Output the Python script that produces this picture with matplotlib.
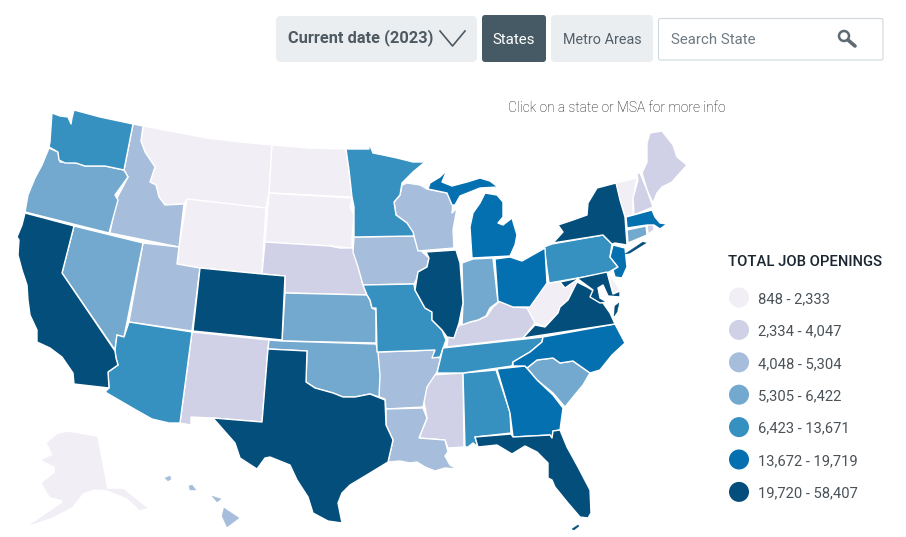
import matplotlib
matplotlib.use("Agg")
import matplotlib.pyplot as plt
from matplotlib.patches import Polygon, FancyBboxPatch, Circle

plt.rcParams['font.family'] = ['Roboto', 'DejaVu Sans']

legend_title = "TOTAL JOB OPENINGS"
legend_labels = ["848 - 2,333", "2,334 - 4,047", "4,048 - 5,304", "5,305 - 6,422",
                 "6,423 - 13,671", "13,672 - 19,719", "19,720 - 58,407"]
class_colors = ["#f1eef6", "#d0d1e6", "#a6bddb", "#74a9cf", "#3690c0", "#0570b0", "#034e7b"]

states_class0 = ["MT", "ND", "SD", "WY", "VT", "WV", "DE", "AK"]
states_class1 = ["NE", "NM", "MS", "KY", "ME", "NH", "RI"]
states_class2 = ["ID", "UT", "IA", "WI", "AR", "LA", "HI", "HI2", "HI3", "HI4"]
states_class3 = ["OR", "NV", "KS", "OK", "IN", "SC", "CT"]
states_class4 = ["WA", "AZ", "MN", "MO", "AL", "TN", "PA"]
states_class5 = ["MI", "MIU", "OH", "GA", "NC", "NJ", "MA"]
states_class6 = ["CA", "CO", "TX", "IL", "FL", "FLK", "VA", "VA2", "NY", "LI", "MD"]
state_classes = [states_class0, states_class1, states_class2, states_class3,
                 states_class4, states_class5, states_class6]
no_border = ["AK", "HI", "HI2", "HI3", "HI4", "FLK", "LI", "VA2"]

# State outlines (pixel space of the map)
outline = {
 "WA": [(52,113),(60,116),(68,117),(71,124),(72,118),(74,110),(100,117),(133,124),(124,170),(105,166),(95,166),(85,166),(76,163),(65,163),(59,160),(58,152),(49,147),(50,142),(51,127)],
 "OR": [(49,148),(58,152),(60,162),(76,163),(85,166),(105,166),(124,170),(128,177),(115,195),(118,200),(109,233),(25,212),(28,195),(35,178),(42,165)],
 "CA": [(25,213),(74,226),(62,273),(115,351),(116,358),(118,365),(108,372),(109,388),(74,384),(73,373),(62,357),(50,348),(37,342),(37,330),(30,315),(28,300),(27,285),(22,270),(18,255),(19,240),(17,237),(22,225)],
 "NV": [(74,226),(143,243),(127,322),(124,337),(117,335),(115,350),(62,273)],
 "ID": [(133,124),(143,126),(141,141),(145,152),(155,167),(150,182),(156,185),(159,197),(165,205),(184,204),(179,247),(110,233),(116,200),(128,177),(124,170)],
 "MT": [(143,126),(175,132),(207,138),(240,142),(272,145),(269,193),(266,208),(187,199),(184,204),(165,205),(159,197),(156,185),(150,182),(155,167),(145,152),(141,141)],
 "WY": [(187,199),(266,208),(262,274),(200,268),(177,264),(179,247)],
 "UT": [(143,243),(179,247),(177,264),(200,268),(192,331),(129,322)],
 "CO": [(200,268),(262,274),(285,276),(282,340),(193,331)],
 "AZ": [(129,322),(192,332),(180,423),(169,423),(152,419),(136,410),(105,392),(109,388),(108,372),(118,365),(116,358),(115,350),(117,335),(124,337)],
 "NM": [(192,332),(269,340),(268,349),(262,422),(213,418),(191,417),(191,425),(180,423)],
 "TX": [(268,349),(307,351),(306,382),(315,388),(333,393),(343,397),(355,397),(370,394),(385,400),(386,425),(393,440),(388,462),(370,473),(350,485),(342,493),(338,503),(342,523),(328,521),(313,513),(308,497),(297,480),(290,465),(270,457),(265,458),(257,469),(240,458),(235,443),(213,418),(262,422)],
 "OK": [(269,340),(282,341),(376,344),(378,352),(380,375),(379,397),(370,394),(355,397),(343,397),(333,393),(315,388),(306,382),(307,351),(268,349)],
 "ND": [(272,145),(310,148),(346,149),(349,170),(352,197),(269,193)],
 "SD": [(269,193),(352,198),(350,207),(354,215),(352,238),(352,248),(340,247),(330,246),(265,242)],
 "NE": [(265,242),(330,246),(340,248),(352,248),(356,253),(360,268),(362,282),(367,295),(285,293),(285,276),(262,274)],
 "KS": [(285,293),(367,295),(370,300),(372,308),(376,310),(376,343),(282,341)],
 "MN": [(346,149),(369,149),(369,143),(373,153),(383,155),(397,158),(413,162),(425,162),(413,172),(402,183),(400,195),(394,202),(396,215),(407,223),(413,232),(414,236),(354,237),(354,207),(352,197),(349,170)],
 "IA": [(354,237),(414,236),(418,248),(429,258),(427,267),(418,272),(417,278),(414,284),(363,285),(358,267),(353,252)],
 "WI": [(402,185),(407,183),(420,185),(427,189),(447,193),(453,203),(452,213),(457,208),(453,230),(454,248),(418,251),(414,236),(407,223),(396,215),(394,202),(400,195)],
 "IL": [(426,252),(456,250),(460,263),(463,303),(459,323),(454,338),(447,337),(442,330),(432,320),(432,312),(425,308),(415,290),(417,278),(418,272),(427,267),(429,258)],
 "IN": [(462,263),(473,259),(493,258),(498,302),(490,308),(486,316),(478,320),(470,322),(462,325),(463,303)],
 "MO": [(363,285),(414,284),(415,290),(425,308),(432,312),(432,320),(442,330),(446,340),(440,357),(432,358),(435,350),(377,352),(376,308),(372,308),(370,300),(367,295)],
 "AR": [(378,352),(435,350),(433,357),(441,358),(437,372),(427,387),(423,407),(386,409),(385,399),(379,397)],
 "LA": [(386,409),(423,408),(427,418),(419,438),(445,440),(448,452),(445,456),(450,465),(457,469),(445,468),(435,471),(425,467),(417,462),(410,463),(400,461),(388,462),(393,440),(386,425)],
 "MS": [(431,375),(463,373),(464,447),(448,448),(445,440),(419,438),(427,418),(423,397),(427,387)],
 "AL": [(463,373),(496,370),(510,412),(511,433),(475,437),(478,447),(473,443),(468,447),(465,447)],
 "GA": [(497,369),(525,366),(537,380),(553,395),(563,408),(560,430),(553,431),(552,438),(550,435),(513,437),(510,413)],
 "FL": [(475,437),(511,434),(513,437),(550,435),(552,438),(553,431),(560,430),(567,447),(578,467),(590,490),(591,513),(588,518),(580,517),(568,503),(555,487),(552,480),(548,478),(548,463),(537,452),(525,446),(512,454),(497,445),(478,447)],
 "FLK": [(572,529),(578,525),(579,526),(574,530)],
 "SC": [(527,368),(537,360),(553,358),(560,363),(573,361),(590,373),(583,385),(573,397),(565,407),(553,393),(537,380)],
 "NC": [(543,337),(615,324),(625,343),(612,355),(600,370),(590,373),(573,361),(560,363),(553,358),(537,360),(527,368),(525,366),(513,366),(513,362),(530,352),(542,342)],
 "TN": [(437,373),(443,348),(543,337),(542,342),(530,352),(513,362),(512,366),(463,373)],
 "KY": [(447,347),(448,337),(460,325),(470,322),(478,320),(487,316),(493,307),(500,301),(513,307),(527,308),(535,323),(523,338)],
 "OH": [(495,259),(510,257),(522,261),(545,248),(547,283),(530,307),(513,307),(498,301)],
 "MI": [(472,258),(470,227),(473,213),(480,203),(485,193),(497,195),(503,202),(503,217),(498,223),(503,225),(512,218),(517,235),(515,245),(510,256)],
 "MIU": [(430,183),(440,177),(447,170),(442,182),(452,186),(467,182),(480,178),(490,181),(498,187),(480,188),(470,192),(460,196),(455,205),(452,205),(447,193),(428,189)],
 "PA": [(544,247),(552,244),(603,235),(612,244),(610,257),(618,267),(607,273),(549,283)],
 "NY": [(553,243),(563,232),(558,225),(573,220),(587,215),(588,203),(597,188),(616,183),(620,200),(625,217),(627,245),(615,243),(612,244),(603,235)],
 "LI": [(625,254),(643,242),(646,243),(630,253)],
 "NJ": [(613,245),(625,248),(627,267),(622,278),(615,277),(613,270),(618,267),(610,257)],
 "DE": [(608,272),(620,290),(613,294)],
 "MD": [(560,282),(607,272),(613,294),(620,291),(620,297),(608,296),(603,285),(598,288),(600,298),(607,302),(600,303),(590,297),(593,290),(578,279),(565,288)],
 "VA": [(523,338),(535,325),(545,327),(558,313),(560,307),(568,300),(577,282),(587,287),(597,293),(593,298),(603,303),(610,313),(615,324)],
 "VA2": [(619,303),(617,312),(614,316),(615,306)],
 "WV": [(547,283),(549,283),(563,281),(563,287),(573,280),(577,282),(568,300),(560,307),(558,313),(545,327),(535,323),(527,308),(532,298)],
 "MA": [(626,217),(652,210),(655,217),(660,223),(667,224),(660,229),(654,225),(647,225),(627,228)],
 "CT": [(627,230),(646,226),(647,235),(628,243)],
 "RI": [(647,225),(653,224),(654,230),(648,234)],
 "VT": [(616,183),(637,178),(633,200),(633,215),(625,217),(620,200)],
 "NH": [(637,173),(640,173),(647,190),(653,207),(634,215),(633,198),(638,180)],
 "ME": [(650,133),(662,131),(673,145),(677,157),(687,165),(672,182),(662,187),(657,193),(653,203),(647,190),(642,173),(647,162),(647,143)],
 "AK": [(68,432),(97,437),(107,489),(123,489),(147,508),(140,510),(127,498),(107,490),(95,489),(83,493),(72,507),(53,517),(30,525),(62,503),(63,500),(50,497),(42,483),(55,473),(55,467),(42,460),(53,455),(47,443),(58,434)],
 "HI": [(224,508),(239,518),(227,527),(222,516)],
 "HI2": [(212,496),(221,499),(217,502)],
 "HI3": [(189,486),(192,485),(196,490),(190,490)],
 "HI4": [(165,478),(170,476),(171,479),(168,481)],
}

fig = plt.figure(figsize=(9.06, 5.37), dpi=100)
ax = fig.add_axes([0, 0, 1, 1])
ax.set_xlim(0, 906)
ax.set_ylim(537, 0)
ax.axis("off")

for color, members in zip(class_colors, state_classes):
    for name in members:
        border = name not in no_border
        ax.add_patch(Polygon(outline[name], closed=True, facecolor=color,
                             edgecolor="white" if border else color,
                             linewidth=1.0 if border else 0.3, joinstyle="round"))

def box(x0, y0, x1, y1, fc, ec="none", r=5, lw=1.0):
    ax.add_patch(FancyBboxPatch((x0 + r, y0 + r), x1 - x0 - 2 * r, y1 - y0 - 2 * r,
                                boxstyle=f"round,pad={r},rounding_size={r}",
                                fc=fc, ec=ec, lw=lw))

box(276, 16, 477, 62, "#ebeef1")
box(482, 15, 546, 62, "#455a64", r=3)
box(551, 15, 653, 62, "#ebeef1", r=4)
box(658.5, 18.5, 883, 60, "white", ec="#cfd8dc", r=2, lw=0.8)

ax.text(288, 38, "Current date (2023)", fontsize=11.8, fontweight="bold",
        color="#4e5a62", va="center", ha="left")
ax.plot([440, 452.5, 465], [31, 46, 31], color="#4e5a62", lw=1.2)
ax.text(514, 40, "States", fontsize=10.9, color="white", va="center", ha="center")
ax.text(602, 40, "Metro Areas", fontsize=10.4, color="#546069", va="center", ha="center")
ax.text(671, 39.5, "Search State", fontsize=10.8, color="#6e7a82", va="center", ha="left")
ax.add_patch(Circle((844, 36), 5, fc="none", ec="#5f6b73", lw=1.8))
ax.plot([848, 855], [40, 46], color="#5f6b73", lw=2.6, solid_capstyle="round")
ax.text(508, 108, "Click on a state or MSA for more info", fontsize=9.9, fontweight="light",
        color="#111111", va="center", ha="left")

ax.text(728, 262, legend_title, fontsize=10.65, fontweight="medium", color="#1c2630",
        va="center", ha="left")
for i, (lab, col) in enumerate(zip(legend_labels, class_colors)):
    y = 297.5 + i * 32.4
    ax.add_patch(Circle((739, y), 10, fc=col, ec="none"))
    ax.text(758, y + 1.5, lab, fontsize=10.6, color="#4a5258", va="center", ha="left")

fig.savefig("out.png", dpi=100)
